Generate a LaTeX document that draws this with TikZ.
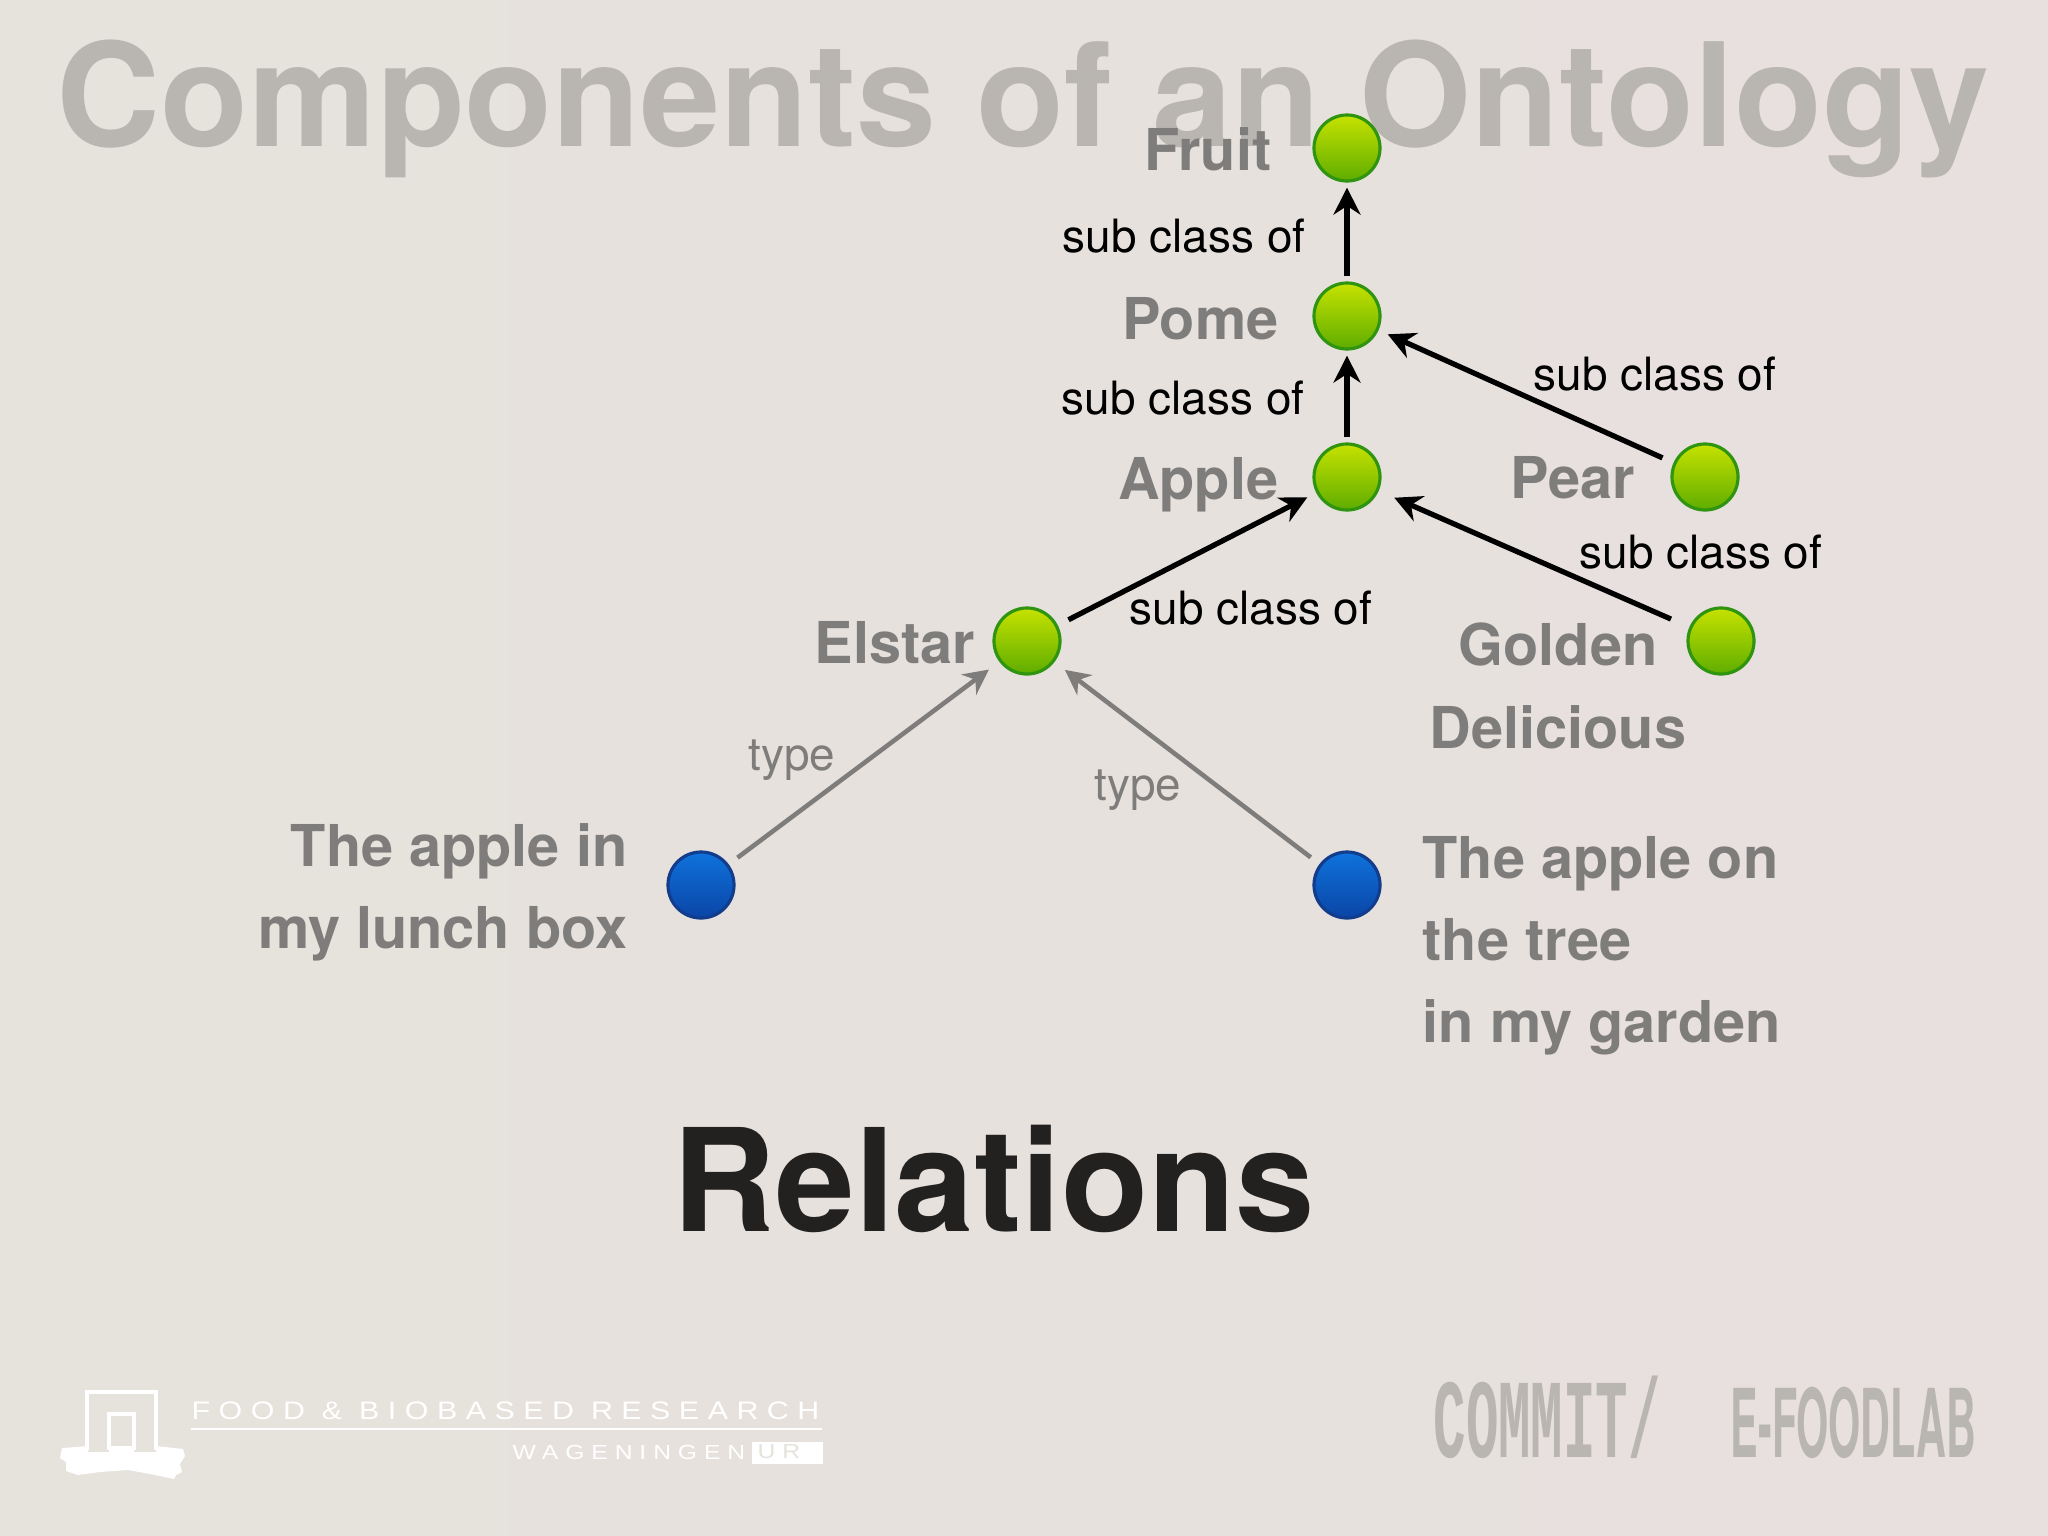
\documentclass[tikz,border=0pt]{standalone}
\usepackage{fontspec}
\setmainfont{TeX Gyre Heros}
\newfontfamily\logofont[LetterSpace=28]{Liberation Sans}
\newfontfamily\slabfont{Liberation Mono}
\usetikzlibrary{arrows.meta}

\definecolor{paper}{HTML}{E6E2DC}
\definecolor{paperb}{HTML}{E8E0DE}
\definecolor{titlegray}{HTML}{B9B5B1}
\definecolor{labelgray}{HTML}{7F7D7B}
\definecolor{darktext}{HTML}{222120}
\definecolor{greenrim}{HTML}{2F9410}
\definecolor{greentop}{HTML}{C6E200}
\definecolor{greenlow}{HTML}{5EAD00}
\definecolor{bluerim}{HTML}{123C8C}
\definecolor{bluetop}{HTML}{0F72DC}
\definecolor{bluelow}{HTML}{0A45A6}

\tikzset{
    classnode/.style={circle, draw=greenrim, line width=0.9pt, minimum size=0.66cm, inner sep=0pt, top color=greentop, bottom color=greenlow},
    itemnode/.style={circle, draw=bluerim, line width=0.9pt, minimum size=0.66cm, inner sep=0pt, top color=bluetop, bottom color=bluelow},
    subclass/.style={-{Stealth[length=0.27cm,width=0.27cm]}, line width=1.5pt, black, shorten >=0.1cm, shorten <=0.12cm},
    upclass/.style={subclass, shorten >=0.05cm, shorten <=0.05cm},
    typeof/.style={-{Stealth[length=0.25cm,width=0.25cm]}, line width=1.3pt, labelgray, shorten >=0.13cm, shorten <=0.11cm},
    termlabel/.style={inner sep=0pt, text=labelgray, font=\fontsize{16.4}{23.4}\selectfont\bfseries},
    rellabel/.style={inner sep=0pt, text=black, font=\fontsize{13.05}{16}\selectfont},
    typelabel/.style={inner sep=0pt, text=labelgray, font=\fontsize{13.05}{16}\selectfont},
    logotext/.style={inner sep=0pt, text=white}
}

\begin{document}
\begin{tikzpicture}[x=0.01cm, y=-0.01cm]

    % Background of the slide
    \fill[left color=paper, right color=paperb] (0,0) rectangle (2048,1536);
    \useasboundingbox (0,0) rectangle (2048,1536);

    % Title and the big word
    \node[anchor=base west, inner sep=0pt, text=titlegray, font=\fontsize{40.9}{44}\selectfont\bfseries] (title) at (56,146) {Components of an Ontology};
    \node[anchor=base west, inner sep=0pt, text=darktext, font=\fontsize{40.6}{44}\selectfont\bfseries] (relations) at (672,1231) {Relations};

    % The classes
    \node[classnode] (fruit) at (1347,148) {};
    \node[classnode] (pome) at (1347,316) {};
    \node[classnode] (apple) at (1347,477) {};
    \node[classnode] (pear) at (1705,477) {};
    \node[classnode] (elstar) at (1027,641) {};
    \node[classnode] (golden) at (1721,641) {};

    % The two individuals
    \node[itemnode] (lunchbox) at (701,885) {};
    \node[itemnode] (tree) at (1347,885) {};

    % Names next to the circles
    \node[termlabel, anchor=base east] (fruitname) at (1272,170) {Fruit};
    \node[termlabel, anchor=base east] (pomename) at (1279,339) {Pome};
    \node[termlabel, anchor=base east] (applename) at (1279,499) {Apple};
    \node[termlabel, anchor=base east] (pearname) at (1636,498) {Pear};
    \node[termlabel, anchor=base east] (elstarname) at (976,663) {Elstar};
    \node[termlabel, anchor=base] (goldenname) at (1558,665) {Golden};
    \node[termlabel, anchor=base] (deliciousname) at (1558,748) {Delicious};
    \node[termlabel, anchor=base east] (lunchname) at (628,866) {The apple in};
    \node[termlabel, anchor=base east] (lunchnameb) at (628,948) {my lunch box};
    \node[termlabel, anchor=base west] (treename) at (1422,878) {The apple on};
    \node[termlabel, anchor=base west] (treenameb) at (1422,960) {the tree};
    \node[termlabel, anchor=base west] (treenamec) at (1422,1042) {in my garden};

    % Connectors
    \draw[upclass] (pome) -- (fruit);
    \draw[upclass] (apple) -- (pome);
    \draw[subclass] (pear) -- (pome);
    \draw[subclass] (elstar) -- (apple);
    \draw[subclass, shorten >=0.17cm, shorten <=0.2cm] (golden) -- (apple);
    \draw[typeof] (lunchbox) -- (elstar);
    \draw[typeof] (tree) -- (elstar);

    % Labels of the connectors
    \node[rellabel, anchor=base east] (ruleone) at (1306,252) {sub class of};
    \node[rellabel, anchor=base east] (ruletwo) at (1305,414) {sub class of};
    \node[rellabel, anchor=base west] (rulethree) at (1533,390) {sub class of};
    \node[rellabel, anchor=base west] (rulefour) at (1579,568) {sub class of};
    \node[rellabel, anchor=base west] (rulefive) at (1129,624) {sub class of};
    \node[typelabel, anchor=base] (typeone) at (792,770) {type};
    \node[typelabel, anchor=base] (typetwo) at (1138,800) {type};

    % Logo at the bottom left
    \draw[white, line width=0.9pt] (87,1450) -- (87,1392) -- (156,1392) -- (156,1450);
    \draw[white, line width=0.9pt] (109,1450) -- (109,1414) -- (134,1414) -- (134,1450);
    \fill[white] (62,1448) -- (88,1446) -- (88,1452) -- (109,1452) -- (109,1446) -- (134,1446) -- (134,1452) -- (156,1452) -- (156,1446) -- (183,1449) -- (185,1456) -- (180,1464) -- (182,1472) -- (176,1475) -- (174,1479) -- (150,1474) -- (128,1470) -- (100,1472) -- (78,1475) -- (66,1471) -- (66,1462) -- (60,1458) -- cycle;
    \node[logotext, anchor=base west, font=\fontsize{7.2}{8}\logofont] (foodname) at (191,1419) {\scalebox{1.2}[1]{FOOD \& BIOBASED RESEARCH}};
    \draw[white, line width=0.6pt] (191,1429) -- (822,1429);
    \node[logotext, anchor=base east, font=\fontsize{5.8}{7}\logofont] (wurname) at (746,1459) {\scalebox{1.21}[1]{WAGENINGEN}};
    \node[fill=white, anchor=north west, inner sep=0pt, minimum width=0.71cm, minimum height=0.22cm] (urbox) at (751,1441) {};
    \node[anchor=west, inner sep=0pt, text=paper, font=\fontsize{5.8}{7}\logofont] (urname) at (757,1452) {\scalebox{1.21}[1]{UR}};

    % Names at the bottom right
    \node[anchor=base west, inner sep=0pt, text=titlegray, font=\fontsize{32}{34}\slabfont\bfseries] (commit) at (1433,1457) {\scalebox{0.48}[1]{COMMIT/}};
    \node[anchor=base west, inner sep=0pt, text=titlegray, font=\fontsize{27}{30}\selectfont\bfseries] (efoodlab) at (1730,1457) {\scalebox{0.435}[1]{E-FOODLAB}};

\end{tikzpicture}
\end{document}
